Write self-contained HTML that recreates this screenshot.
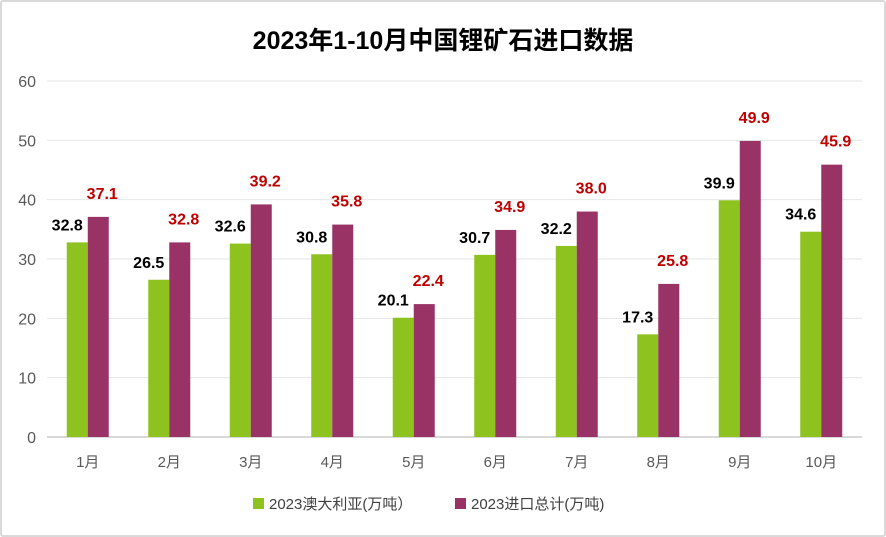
<!DOCTYPE html>
<html><head><meta charset="utf-8"><style>
body{margin:0;background:#fff}
#c{position:absolute;left:0;top:0;width:882px;height:533px;border:2px solid #d9d9d9;border-radius:3px;background:#fff}
text{font-family:"Liberation Sans","Noto Sans CJK SC",sans-serif}
</style></head><body>
<div id="c"></div>
<svg id="s" width="886" height="537" style="position:absolute;left:0;top:0">
<text x="443" y="49" text-anchor="middle" font-size="25" font-weight="bold" fill="#000">2023年1-10月中国锂矿石进口数据</text>
<g id="grid"></g><g id="bars"></g>
<g>
<rect x="253" y="498" width="11" height="11" fill="#8dc21f"/>
<text x="269" y="509" font-size="15" fill="#404040">2023澳大利亚(万吨）</text>
<rect x="455" y="498" width="11" height="11" fill="#993366"/>
<text x="471" y="509" font-size="15" fill="#404040">2023进口总计(万吨)</text>
</g>
</svg>
<script>
const categories=["1月","2月","3月","4月","5月","6月","7月","8月","9月","10月"];
const australia=[32.8,26.5,32.6,30.8,20.1,30.7,32.2,17.3,39.9,34.6];
const total=[37.1,32.8,39.2,35.8,22.4,34.9,38.0,25.8,49.9,45.9];
const yTicks=[0,10,20,30,40,50,60];
const NS="http://www.w3.org/2000/svg";
const x0=47,x1=862,yTop=81,yBot=437,yMax=60;
const bw=(x1-x0)/categories.length;
const y=v=>yBot-(v/yMax)*(yBot-yTop);
function mk(t,a,p){const e=document.createElementNS(NS,t);for(const k in a)e.setAttribute(k,a[k]);p.appendChild(e);return e;}
const g=document.getElementById('grid'),b=document.getElementById('bars');
yTicks.forEach(t=>{
 const l=mk('line',{x1:x0,x2:x1,y1:y(t),y2:y(t),stroke:t===0?'#d9d9d9':'#e6e6e6','stroke-width':t===0?2:1},g);
 
 
 const tx=mk('text',{x:36,y:y(t)+6,'text-anchor':'end','font-size':16,fill:'#595959'},g);tx.textContent=t;
 
 
});
const w=21;
categories.forEach((c,i)=>{
 const cx=x0+bw*(i+0.5);
 const r1=mk('rect',{x:cx-w,y:y(australia[i]),width:w,height:yBot-y(australia[i]),fill:'#8dc21f'},b);
 
 
 const r2=mk('rect',{x:cx,y:y(total[i]),width:w,height:yBot-y(total[i]),fill:'#993366'},b);
 
 
 const t1=mk('text',{x:cx-w/2-10,y:y(australia[i])-12,'text-anchor':'middle','font-size':16,'font-weight':'bold',fill:'#000'},b);t1.textContent=australia[i].toFixed(1);
 
 
 const t2=mk('text',{x:cx+w/2+4,y:y(total[i])-18,'text-anchor':'middle','font-size':16,'font-weight':'bold',fill:'#c00000'},b);t2.textContent=total[i].toFixed(1);
 
 
 const xl=mk('text',{x:cx,y:467,'text-anchor':'middle','font-size':15,fill:'#595959'},b);xl.textContent=c;
 
 
});
</script>
</body></html>
